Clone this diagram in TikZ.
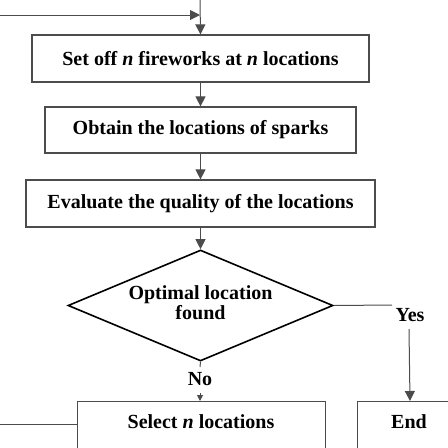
\documentclass[tikz,border=0pt]{standalone}
\usepackage{fontspec}
\setmainfont{Liberation Serif}
\usetikzlibrary{shapes.geometric,arrows.meta}
\begin{document}
\begin{tikzpicture}[x=1pt,y=-1pt,
  every node/.style={font=\fontsize{20}{23}\selectfont\bfseries, text=black},
  stepbox/.style={draw=black!70, line width=1.2pt, rectangle, inner sep=0pt},
  decide/.style={draw=black, line width=1.6pt, diamond, inner sep=0pt, align=center},
  conn/.style={draw=black!70, line width=1pt},
  arr/.style={conn, -{Triangle[width=10pt,length=10pt]}},
  lbl/.style={inner sep=0pt}
]
\useasboundingbox (0,0) rectangle (448,448);
\clip (0,0) rectangle (448,448);
\node[stepbox, minimum width=337pt, minimum height=47pt] (b1) at (200.5,58.5) {Set off \textit{n} fireworks at \textit{n} locations};
\node[stepbox, minimum width=311pt, minimum height=46pt] (b2) at (200.5,130) {Obtain the locations of sparks};
\node[stepbox, minimum width=349pt, minimum height=47pt] (b3) at (200.5,203.5) {Evaluate the quality of the locations};
\node[decide, minimum width=265pt, minimum height=111pt, aspect=2.4] (d) at (200.5,305.5) {};
\node[lbl] (dt) at (200.5,305) {\begin{tabular}{@{}c@{}}Optimal location\\[-3pt] found\end{tabular}};
\node[stepbox, minimum width=248pt, minimum height=47pt, anchor=north west] (sel) at (77,401) {};
\node[lbl] (selt) at (201,422) {Select \textit{n} locations};
\node[stepbox, minimum width=120pt, minimum height=47pt, anchor=north west] (end) at (357,401) {};
\node[lbl] (endt) at (409,422) {End};
\node[lbl] (yes) at (410,315) {Yes};
\node[lbl] (no) at (200,379) {No};
\coordinate (top) at (200,0);
\coordinate (lft) at (0,15);
\coordinate (lj) at (200,15);
\coordinate (ly) at (392,305);
\coordinate (yb) at (409,329);
\coordinate (nb) at (200,367);
\coordinate (na) at (200,393);
\coordinate (sl) at (0,424);
\draw[arr] (top) -- (b1.north);
\draw[arr] (lft) -- (lj);
\draw[arr] (b1.south) -- (b2.north);
\draw[arr] (b2.south) -- (b3.north);
\draw[arr] (b3.south) -- (d.north);
\draw[conn] (d.east) -- (ly);
\draw[arr] (yb) -- (end.north west -| yes.center);
\draw[conn] (d.south) -- (nb);
\draw[conn, -{Triangle[width=6pt,length=6pt]}] (na) -- (sel.north west -| no.center);
\draw[conn] (sl) -- (sel.west |- sl);
\end{tikzpicture}
\end{document}
